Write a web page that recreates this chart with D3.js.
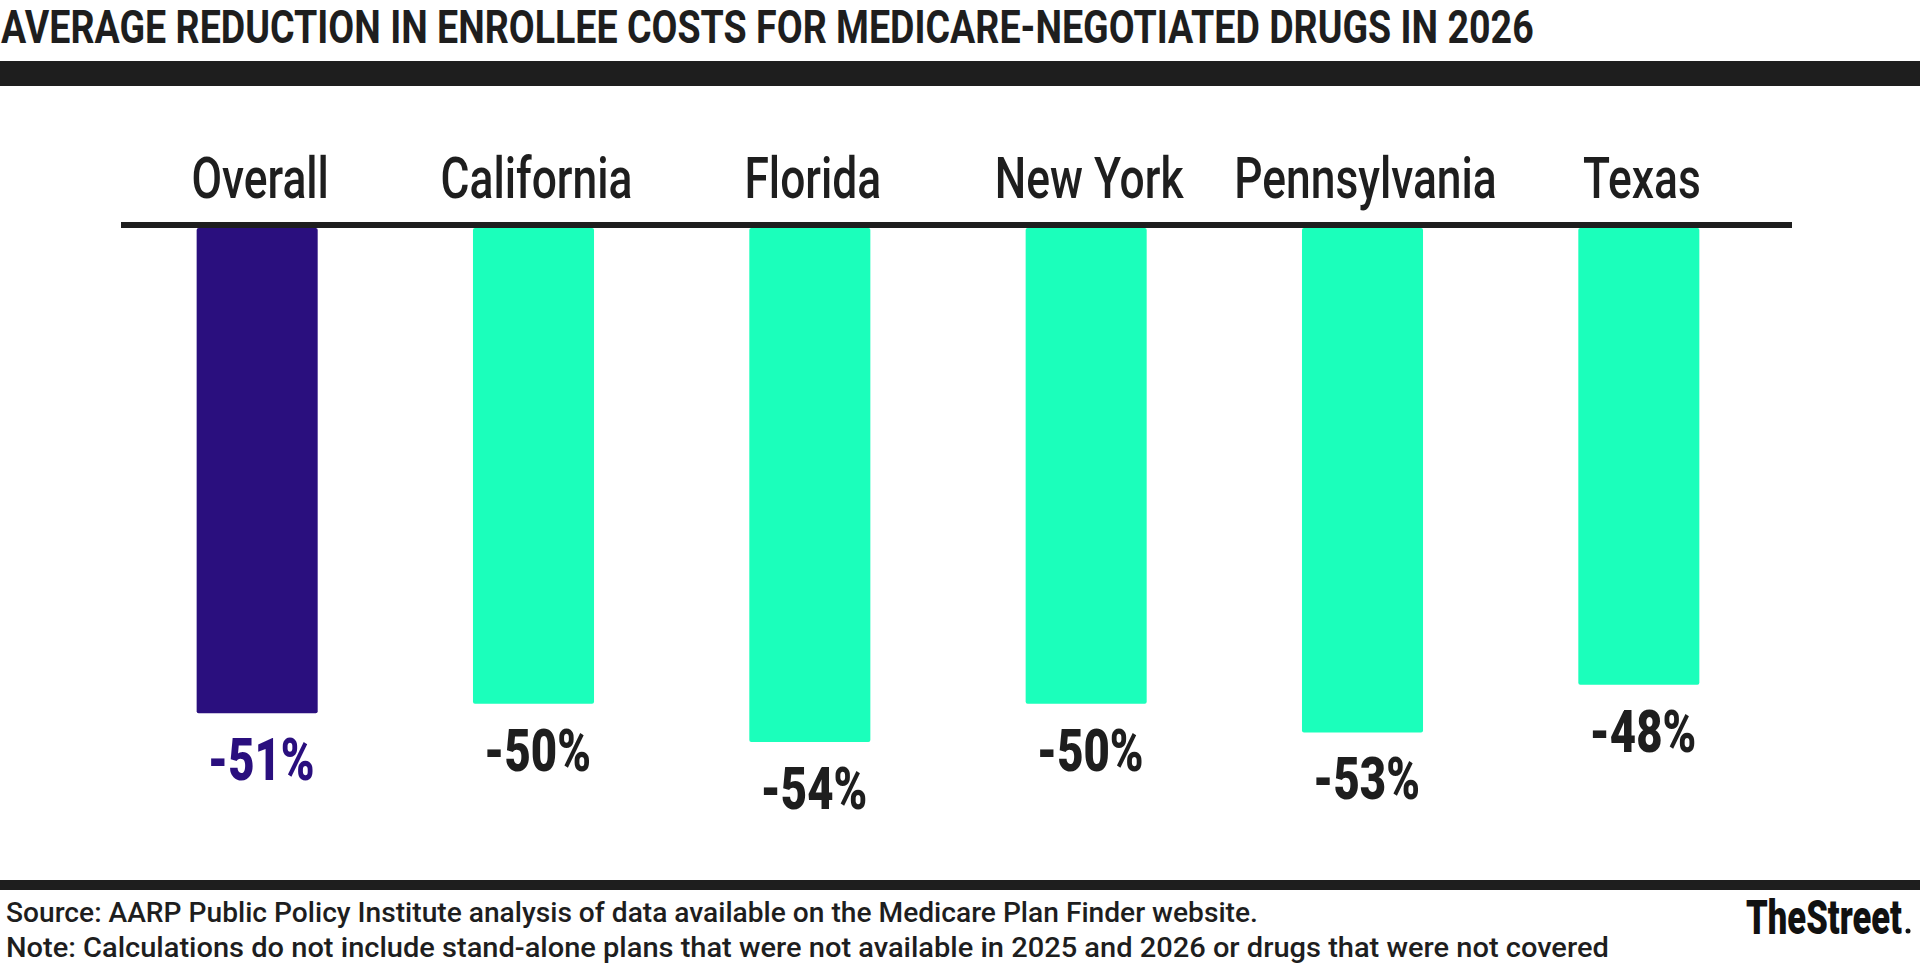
<!DOCTYPE html>
<html>
<head>
<meta charset="utf-8">
<script src="https://cdn.jsdelivr.net/npm/d3@7"></script>
<style>
  html, body { margin: 0; padding: 0; background: #ffffff; }
  svg { display: block; }
  text { font-family: Roboto, "Noto Sans", sans-serif; }
</style>
</head>
<body>
<svg id="chart"></svg>
<script>
/* données du graphique */
const categories = ['Overall', 'California', 'Florida', 'New York', 'Pennsylvania', 'Texas']
const reductions = [-51, -50, -54, -50, -53, -48]
const valueLabels = ['-51%', '-50%', '-54%', '-50%', '-53%', '-48%']

const titleText = 'AVERAGE REDUCTION IN ENROLLEE COSTS FOR MEDICARE-NEGOTIATED DRUGS IN 2026'
const sourceText = 'Source: AARP Public Policy Institute analysis of data available on the Medicare Plan Finder website.'
const noteText = 'Note: Calculations do not include stand-alone plans that were not available in 2025 and 2026 or drugs that were not covered'

const width = 1920, height = 967
const dark = '#1e1e1e', purple = '#2a0f7e', teal = '#1bffbb'

const svg = d3.select('#chart')
              .attr('width', width)
              .attr('height', height)

/* texte condensé : translate + scale horizontal */
const squeeze = (sel, x, y, sx) => {
    sel.attr('x', 0).attr('y', 0)
       .attr('transform', 'translate(' + x + ',' + y + ') scale(' + sx + ',1)')
}

/* texte ajusté à une largeur donnée */
const fitWidth = (sel, x, y, w) => {
    const len = sel.node().getComputedTextLength()
    squeeze(sel, x, y, w / len)
}

/* échelles */
const xScale = d3.scaleBand()
                 .domain(categories)
                 .range([119, 1777])
                 .paddingInner(0.562)
                 .paddingOuter(0.281)

const yScale = d3.scaleLinear()
                 .domain([0, -60])
                 .range([228, 799])

/* titre + bandeau */
const title = svg.append('text')
   .style('font-size', '46px')
   .style('font-weight', 700)
   .attr('fill', dark)
   .text(titleText)
fitWidth(title, 1, 43, 1533)

svg.append('rect')
   .attr('x', 0).attr('y', 61)
   .attr('width', width).attr('height', 25)
   .attr('fill', dark)

/* barres */
svg.selectAll('rect.bar')
   .data(categories)
   .enter()
   .append('rect')
   .attr('class', 'bar')
   .attr('x', d => xScale(d))
   .attr('y', yScale(0))
   .attr('width', xScale.bandwidth())
   .attr('height', (d, i) => yScale(reductions[i]) - yScale(0))
   .attr('rx', 2)
   .attr('fill', (d, i) => i === 0 ? purple : teal)

/* ligne de base */
svg.append('rect')
   .attr('x', 121).attr('y', yScale(0) - 6)
   .attr('width', 1671).attr('height', 6)
   .attr('fill', dark)

/* noms des catégories */
svg.selectAll('text.cat')
   .data(categories)
   .enter()
   .append('text')
   .attr('class', 'cat')
   .attr('text-anchor', 'middle')
   .style('font-size', '58px')
   .style('font-weight', 500)
   .attr('fill', dark)
   .text(d => d)
   .each(function (d) {
       squeeze(d3.select(this), xScale(d) + xScale.bandwidth() / 2 + 3, 198, 0.765)
   })

/* valeurs */
svg.selectAll('text.val')
   .data(categories)
   .enter()
   .append('text')
   .attr('class', 'val')
   .attr('text-anchor', 'middle')
   .style('font-size', '59px')
   .style('font-weight', 900)
   .attr('fill', (d, i) => i === 0 ? purple : dark)
   .text((d, i) => valueLabels[i])
   .each(function (d, i) {
       squeeze(d3.select(this), xScale(d) + xScale.bandwidth() / 2 + 4, yScale(reductions[i]) + 67, 0.77)
   })

/* pied de page */
svg.append('rect')
   .attr('x', 0).attr('y', 880)
   .attr('width', width).attr('height', 10)
   .attr('fill', dark)

const source = svg.append('text')
   .style('font-size', '27px')
   .style('font-weight', 500)
   .attr('fill', dark)
   .text(sourceText)
fitWidth(source, 6, 922, 1252)

const note = svg.append('text')
   .style('font-size', '27px')
   .style('font-weight', 500)
   .attr('fill', dark)
   .text(noteText)
fitWidth(note, 6, 957, 1604)

/* logo */
const logo = svg.append('text')
   .style('font-size', '48px')
   .style('font-weight', 900)
   .attr('fill', '#111')
   .text('TheStreet')
fitWidth(logo, 1746, 934, 156)

svg.append('circle')
   .attr('cx', 1908).attr('cy', 931)
   .attr('r', 2.5)
   .attr('fill', '#111')
</script>
</body>
</html>
